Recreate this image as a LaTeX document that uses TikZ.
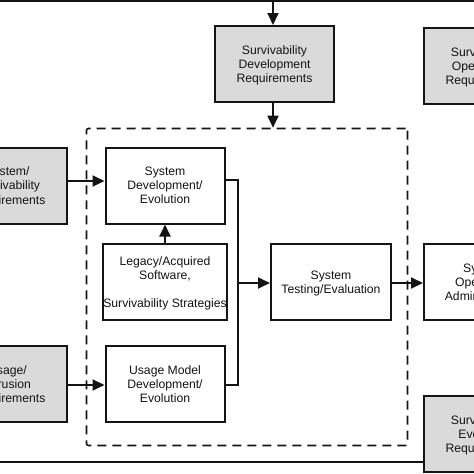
\documentclass[tikz,border=0pt]{standalone}
\usepackage{fontspec}
\setmainfont{Liberation Sans}
\usetikzlibrary{arrows.meta}
\definecolor{reqgray}{RGB}{218,218,218}
\definecolor{inkc}{RGB}{20,20,20}
\begin{document}
\begin{tikzpicture}[x=1pt,y=-1pt,
  box/.style={draw=inkc,line width=2pt,minimum width=119pt,minimum height=76pt,align=center,
    font=\fontsize{12.2}{14.2}\selectfont,inner sep=0pt,text=inkc,text depth=0pt},
  req/.style={box,fill=reqgray},
  link/.style={draw=inkc,line width=1.8pt},
  arr/.style={link,-{Triangle[length=12pt,width=11pt]}},
  grp/.style={draw=inkc,line width=1.6pt,dash pattern=on 9pt off 6pt,rounded corners=2pt,
    minimum width=321pt,minimum height=317pt,inner sep=0pt}
  ]
\useasboundingbox (0,0) rectangle (474,474);
\clip (0,0) rectangle (474,474);
\fill[white] (0,0) rectangle (474,474);
% group
\node[grp] (group) at (247,287) {};
% requirement boxes
\node[req] (sdr) at (274.5,64) {Survivability\\Development\\Requirements};
\node[req] (sor) at (483.5,66) {Survivability\\Operational\\Requirements};
\node[req] (sysreq) at (7.5,185.5) {System/\\Survivability\\Requirements};
\node[req] (usereq) at (7.5,384) {Usage/\\Intrusion\\Requirements};
\node[req] (ser) at (483.5,434) {Survivability\\Evolution\\Requirements};
% process boxes
\node[box] (sde) at (165,185.5) {System\\Development/\\Evolution};
\node[box] (leg) at (165,282) {Legacy/Acquired\\Software,\\\mbox{}\\Survivability Strategies};
\node[box] (umd) at (165,384) {Usage Model\\Development/\\Evolution};
\node[box,minimum width=120pt] (ste) at (331,282) {System\\Testing/Evaluation};
\node[box] (sop) at (483.5,282) {System\\Operation/\\Administration};
% coordinates
\coordinate (tl) at (-10,1);
\coordinate (tr) at (484,1);
\coordinate (tdrop) at (273,1);
\coordinate (bl) at (-10,462);
\coordinate (jt) at (238,180);
\coordinate (jm) at (238,283);
\coordinate (jb) at (238,385);
% connectors
\draw[link,line width=2.6pt] (tl) -- (tr);
\draw[arr] (tdrop) -- (tdrop |- sdr.north);
\draw[arr] (sdr.south -| tdrop) -- (group.north -| tdrop);
\draw[arr] (sysreq.east |- 0,181) -- (sde.west |- 0,181);
\draw[arr] (usereq.east |- 0,385) -- (umd.west |- 0,385);
\draw[arr] (leg.north) -- (sde.south);
\draw[link] (sde.east |- jt) -- (jt) -- (jb) -- (umd.east |- jb);
\draw[arr] (jm) -- (ste.west |- jm);
\draw[arr] (ste.east |- jm) -- (sop.west |- jm);
\draw[link] (ser.west |- bl) -- (bl);
\end{tikzpicture}
\end{document}
